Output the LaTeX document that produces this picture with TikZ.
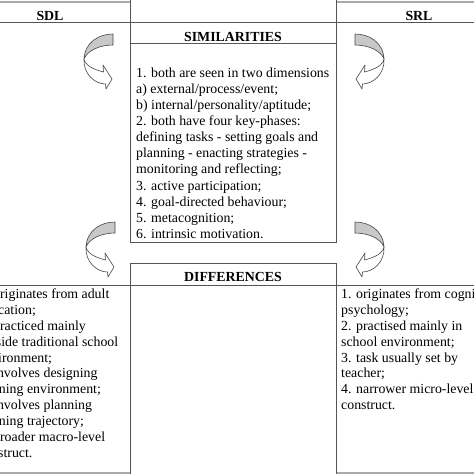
\documentclass[tikz,border=0pt]{standalone}
\usepackage{fontspec}
\setmainfont{Liberation Serif}
\definecolor{linec}{RGB}{85,85,85}
\definecolor{edgec}{RGB}{170,170,170}
\definecolor{bandc}{RGB}{200,200,200}
\definecolor{arrc}{RGB}{70,70,70}
\tikzset{
  gridline/.style={draw=linec, line width=1pt},
  edgeline/.style={draw=edgec, line width=2pt},
  hdr/.style={font=\fontsize{13.85}{16}\selectfont\bfseries, inner sep=0pt, text=black},
  txt/.style={font=\fontsize{13.85}{15.9}\selectfont, align=left, inner sep=0pt, anchor=north west, text=black},
  band/.style={fill=bandc, draw=arrc, line width=0.6pt, line join=round},
  front/.style={fill=white, draw=arrc, line width=0.6pt, line join=round},
}
\newcommand{\mycurvearrow}{%
  \path[band] (0,0) .. controls (-14,0) and (-28,8) .. (-29,25)
     .. controls (-26,17) and (-14,11) .. (0,11) -- cycle;
  \path[front] (-29,25) .. controls (-30,40) and (-18,50) .. (-7.5,50)
     -- (-7,55) -- (-1,45) -- (-10,31) -- (-9.5,38)
     .. controls (-17,36) and (-25,33) .. (-28,28) -- cycle;
}
\begin{document}
\begin{tikzpicture}[x=1pt,y=-1pt]
\useasboundingbox (0,0) rectangle (474,474);
\clip (0,0) rectangle (474,474);
\fill[white] (0,0) rectangle (474,474);
% frame lines
\draw[edgeline] (0,1.5) -- (130,1.5);
\draw[edgeline] (336,1.5) -- (474,1.5);
\draw[edgeline] (0,472.5) -- (130,472.5);
\draw[edgeline] (336,472.5) -- (474,472.5);
\draw[gridline] (0,22) -- (474,22);
\draw[gridline] (0,285) -- (474,285);
\draw[gridline] (130,0) -- (130,242) -- (336,242) -- (336,0);
\draw[gridline] (130,43) -- (336,43);
\draw[gridline] (130,474) -- (130,263) -- (336,263) -- (336,474);
% headers
\node[hdr] (sdl) at (50,16) {SDL};
\node[hdr] (srl) at (419,16) {SRL};
\node[hdr] (sim) at (233,36.5) {SIMILARITIES};
\node[hdr] (dif) at (233,277) {DIFFERENCES};
% texts
\node[txt, font=\fontsize{13.85}{16.1}\selectfont] (simtext) at (136,67.5) {1. both are seen in two dimensions\\
a) external/process/event;\\
b) internal/personality/aptitude;\\
2. both have four key-phases:\\
defining tasks - setting goals and\\
planning - enacting strategies -\\
monitoring and reflecting;\\
3. active participation;\\
4. goal-directed behaviour;\\
5. metacognition;\\
6. intrinsic motivation.};
\node[txt] (sdltext) at (-22,288.5) {1. originates from adult\\
education;\\
2. practiced mainly\\
outside traditional school\\
environment;\\
3. involves designing\\
learning environment;\\
4. involves planning\\
learning trajectory;\\
5. broader macro-level\\
construct.};
\node[txt] (srltext) at (341,288.5) {1. originates from cognitive\\
psychology;\\
2. practised mainly in\\
school environment;\\
3. task usually set by\\
teacher;\\
4. narrower micro-level\\
construct.};
% arrows
\begin{scope}[shift={(113,34)}] \mycurvearrow \end{scope}
\begin{scope}[shift={(115,222)}] \mycurvearrow \end{scope}
\begin{scope}[shift={(355,34)}, xscale=-1] \mycurvearrow \end{scope}
\begin{scope}[shift={(355,222)}, xscale=-1] \mycurvearrow \end{scope}
\end{tikzpicture}
\end{document}
